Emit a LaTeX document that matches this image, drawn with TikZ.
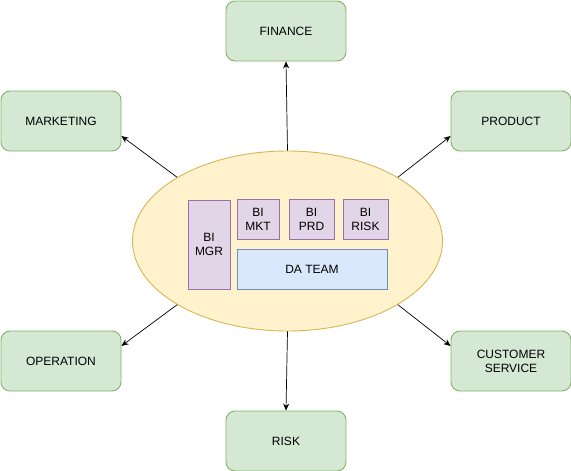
\documentclass[tikz,border=0pt]{standalone}
\usepackage{fontspec}
\setmainfont{Liberation Sans}
\usepackage{xcolor}
\usepackage{tikz}
\usetikzlibrary{arrows.meta, shapes.geometric}
\definecolor{deptfill}{HTML}{D5E8D4}
\definecolor{deptline}{HTML}{82B366}
\definecolor{orgfill}{HTML}{FFF2CC}
\definecolor{orgline}{HTML}{D6B656}
\definecolor{bifill}{HTML}{E1D5E7}
\definecolor{biline}{HTML}{9673A6}
\definecolor{dafill}{HTML}{DAE8FC}
\definecolor{daline}{HTML}{6C8EBF}

\begin{document}
\begin{tikzpicture}[x=1pt, y=-1pt, font=\fontsize{12}{14}\selectfont, line width=0.9pt,
  d/.style={rectangle, rounded corners=9pt, draw=deptline, fill=deptfill,
            minimum width=120pt, minimum height=60pt, align=center, inner sep=0pt},
  b/.style={rectangle, draw=biline, fill=bifill, minimum height=40pt,
            align=center, inner sep=0pt},
  a/.style={-{Stealth[length=7pt, width=6pt]}, black, line width=0.7pt}]
\useasboundingbox (0,0) rectangle (571,471);
% centre
\node[ellipse, draw=orgline, fill=orgfill, minimum width=310pt, minimum height=180pt,
      inner sep=0pt] (org) at (287.5,241) {};
\node[b, minimum width=42pt, minimum height=89pt] (mgr) at (209,244.5) {BI\\MGR};
\node[b, minimum width=42pt] (mkt) at (258,219) {BI\\MKT};
\node[b, minimum width=45pt] (prd) at (311.5,219) {BI\\PRD};
\node[b, minimum width=45pt] (rsk) at (365.5,219) {BI\\RISK};
\node[rectangle, draw=daline, fill=dafill, minimum width=150pt, minimum height=40pt,
      inner sep=0pt] (da) at (312,269) {DA TEAM};
% departments
\node[d] (fin) at (286,31) {FINANCE};
\node[d] (mar) at (61,121) {MARKETING};
\node[d] (pro) at (511,121) {PRODUCT};
\node[d] (ope) at (61,361) {OPERATION};
\node[d] (cus) at (511,361) {CUSTOMER\\SERVICE};
\node[d] (ris) at (286,441) {RISK};
\draw[a] (org.90) -- (fin.south);
\draw[a] (org.150) -- (mar.-14);
\draw[a] (org.30) -- (pro.194);
\draw[a] (org.210) -- (ope.14);
\draw[a] (org.-30) -- (cus.166);
\draw[a] (org.-90) -- (ris.north);
\end{tikzpicture}
\end{document}
